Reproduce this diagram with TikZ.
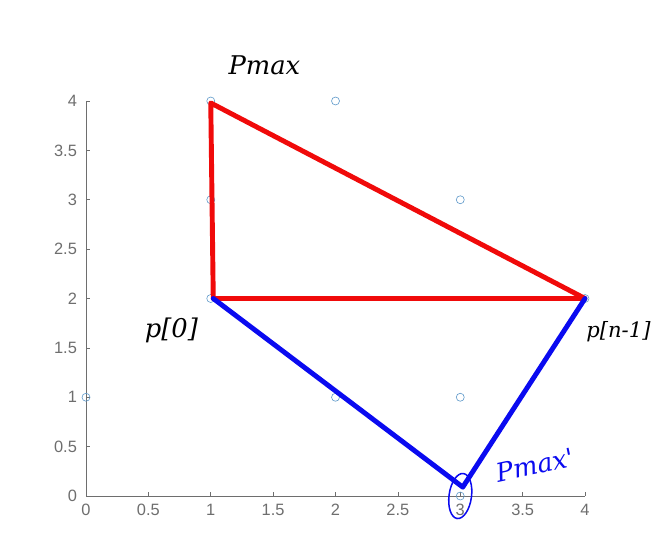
\documentclass[tikz,border=0pt]{standalone}
\usepackage{fontspec}
\setmainfont{Liberation Sans}
\newfontfamily\handfont{DejaVu Serif}
\usepackage{xcolor}
\definecolor{axgray}{RGB}{110,110,110}
\definecolor{mkblue}{RGB}{90,150,200}
\definecolor{penred}{RGB}{240,10,10}
\definecolor{penblue}{RGB}{10,10,240}
\usetikzlibrary{arrows.meta, positioning, calc}
\tikzset{
	axisline/.style={draw=axgray, line width=0.6pt},
	ticklab/.style={font=\fontsize{14}{16}\selectfont, text=axgray},
	ptmark/.style={circle, draw=mkblue, line width=0.5pt, minimum size=0.24cm, inner sep=0pt},
	redline/.style={draw=penred, line width=4.2pt, line join=round, line cap=round},
	blueline/.style={draw=penblue, line width=4.2pt, line join=round, line cap=round},
	handlab/.style={font=\handfont\itshape\fontsize{22}{24}\selectfont},
}

\begin{document}
\begin{tikzpicture}[x=3.7425cm, y=2.9625cm]
	\useasboundingbox (-0.6894,-0.3646) rectangle (4.609,5.0228);
	% axes
	\draw[axisline] (0,4) -- (0,0) -- (4,0);
	\foreach \t in {0.5,1,...,4}
		\draw[axisline] (\t,0) -- ++(0,0.04);
	\foreach \t in {0.5,1,...,4}
		\draw[axisline] (0,\t) -- ++(0.03,0);
	\foreach \t/\l in {0/0,0.5/0.5,1/1,1.5/1.5,2/2,2.5/2.5,3/3,3.5/3.5,4/4}
		\node[ticklab, anchor=north] at (\t,-0.04) {\l};
	\foreach \t/\l in {0/0,0.5/0.5,1/1,1.5/1.5,2/2,2.5/2.5,3/3,3.5/3.5,4/4}
		\node[ticklab, anchor=east] at (-0.04,\t) {\l};
	% data points
	\node[ptmark] (pa) at (1,4) {};
	\node[ptmark] (pb) at (2,4) {};
	\node[ptmark] (pc) at (1,3) {};
	\node[ptmark] (pd) at (3,3) {};
	\node[ptmark] (p0) at (1,2) {};
	\node[ptmark] (pn) at (4,2) {};
	\node[ptmark] (pe) at (0,1) {};
	\node[ptmark] (pf) at (2,1) {};
	\node[ptmark] (pg) at (3,1) {};
	\node[ptmark] (ph) at (3,0) {};
	% hull sketch
	\coordinate (top) at (1.0,3.98);
	\coordinate (left) at (1.02,2.0);
	\coordinate (right) at (4.0,2.0);
	\coordinate (low) at (3.02,0.09);
	\draw[redline] (top) -- (left) -- (right) -- cycle;
	\draw[blueline] (left) -- (low) -- (right);
	\draw[draw=penblue, line width=1.3pt, rotate around={-8:(ph)}] (ph) ellipse (0.09 and 0.23);
	% labels
	\node[handlab] (lmax) at (1.43,4.36) {Pmax};
	\node[handlab, anchor=east] (lp0) at (0.93,1.68) {p[0]};
	\node[handlab, anchor=west, font=\handfont\itshape\fontsize{18}{20}\selectfont, inner sep=1pt] (lpn) at (4.0,1.66) {p[n-1]};
	\node[handlab, text=penblue, rotate=12] (lmin) at (3.6,0.31) {Pmax'};
\end{tikzpicture}
\end{document}
